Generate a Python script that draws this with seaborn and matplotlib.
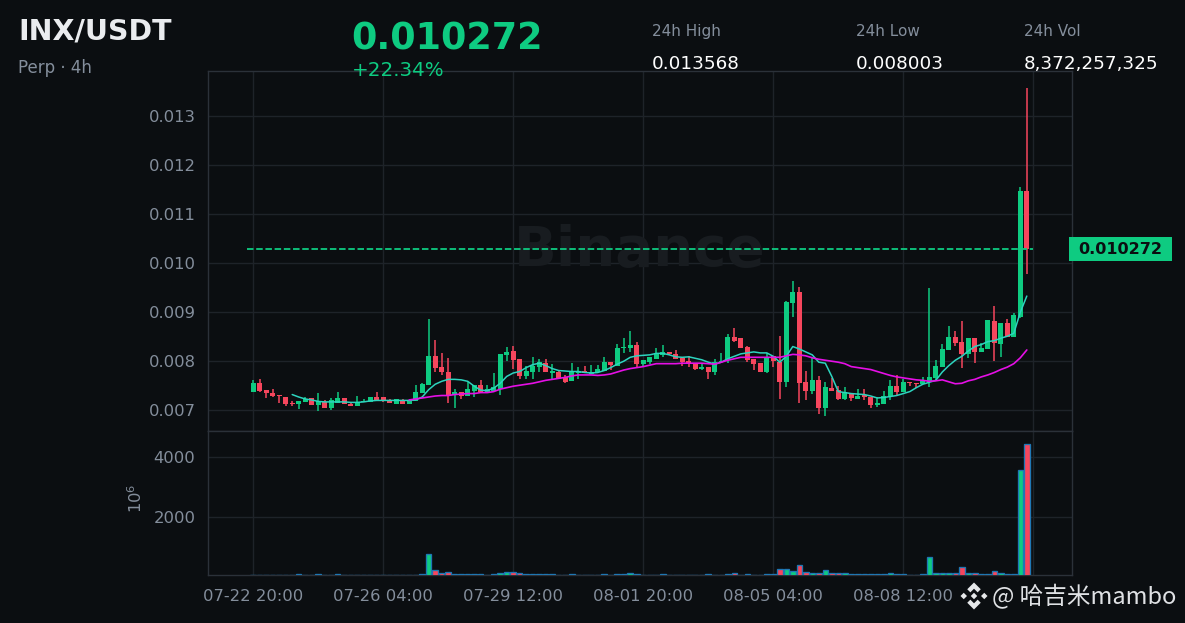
import matplotlib
matplotlib.use('Agg')
import matplotlib.pyplot as plt
from matplotlib.patches import Polygon, Rectangle
import numpy as np
import pandas as pd
import seaborn as sns

BG = '#0b0e11'
GRID = '#1e2329'
SPINE = '#2b3139'
MUTED = '#848e9c'
UP = '#0ecb81'
DOWN = '#f6465d'

opens = [.00737, .00754, .00741, .00735, .00729, .00727, .00714, .00712, .00715, .00723,
         .00709, .00716, .00703, .00714, .00723, .00712, .00707, .00715, .00715, .00727,
         .00725, .00720, .00712, .00720, .00711, .00717, .00735, .00750, .00809, .00788,
         .00778, .00731, .00737, .00728, .00739, .00750, .00736, .00739, .00743, .00811,
         .00819, .00803, .00768, .00778, .00787, .00796, .00775, .00778, .00767, .00758,
         .00774, .00780, .00772, .00778, .00779, .00797, .00789, .00825, .00827, .00833,
         .00793, .00798, .00804, .00812, .00817, .00814, .00805, .00799, .00795, .00784,
         .00788, .00776, .00798, .00801, .00848, .00846, .00829, .00803, .00795, .00778,
         .00809, .00797, .00756, .00918, .00941, .00756, .00738, .00760, .00703, .00744,
         .00741, .00721, .00735, .00721, .00731, .00727, .00710, .00711, .00729, .00749,
         .00737, .00757, .00755, .00752, .00757, .00765, .00788, .00821, .00848, .00839,
         .00813, .00846, .00817, .00823, .00882, .00835, .00876, .00848, .00890, .01146]
closes = [.00754, .00739, .00734, .00728, .00728, .00712, .00712, .00717, .00722, .00709,
          .00718, .00703, .00719, .00723, .00712, .00707, .00716, .00717, .00727, .00720,
          .00718, .00714, .00721, .00711, .00718, .00737, .00752, .00809, .00786, .00776,
          .00729, .00737, .00728, .00742, .00750, .00736, .00742, .00747, .00813, .00817,
          .00801, .00768, .00780, .00789, .00797, .00776, .00780, .00764, .00757, .00777,
          .00780, .00774, .00778, .00784, .00797, .00791, .00827, .00829, .00833, .00793,
          .00801, .00807, .00816, .00817, .00813, .00803, .00797, .00793, .00784, .00788,
          .00777, .00798, .00799, .00848, .00841, .00827, .00801, .00793, .00778, .00807,
          .00799, .00756, .00919, .00941, .00754, .00738, .00760, .00703, .00746, .00739,
          .00721, .00736, .00723, .00729, .00727, .00710, .00713, .00728, .00749, .00737,
          .00756, .00754, .00752, .00760, .00766, .00790, .00823, .00848, .00837, .00813,
          .00846, .00818, .00825, .00884, .00837, .00878, .00848, .00893, .01146, .010272]
highs = [.00761, .00763, .00741, .00742, .00729, .00727, .00718, .00717, .00726, .00723,
         .00735, .00719, .00724, .00737, .00724, .00713, .00729, .00722, .00727, .00737,
         .00725, .00721, .00722, .00722, .00719, .00751, .00754, .00885, .00842, .00816,
         .00806, .00743, .00737, .00757, .00750, .00760, .00750, .00774, .00813, .00828,
         .00831, .00803, .00790, .00808, .00804, .00804, .00794, .00780, .00771, .00796,
         .00787, .00790, .00792, .00792, .00808, .00797, .00835, .00847, .00861, .00838,
         .00801, .00807, .00825, .00833, .00817, .00822, .00805, .00809, .00795, .00794,
         .00788, .00803, .00816, .00855, .00867, .00846, .00831, .00803, .00795, .00816,
         .00809, .00850, .00921, .00963, .00950, .00779, .00806, .00768, .00756, .00765,
         .00748, .00746, .00735, .00743, .00743, .00727, .00726, .00738, .00761, .00770,
         .00763, .00757, .00755, .00767, .00949, .00802, .00835, .00871, .00861, .00881,
         .00846, .00846, .00836, .00884, .00912, .00878, .00886, .00897, .01154, .013568]
lows = [.00736, .00736, .00724, .00726, .00714, .00708, .00708, .00702, .00715, .00709,
        .00697, .00703, .00700, .00714, .00711, .00707, .00707, .00715, .00715, .00720,
        .00716, .00714, .00711, .00711, .00711, .00717, .00735, .00750, .00776, .00771,
        .00714, .00704, .00722, .00728, .00726, .00736, .00736, .00739, .00731, .00799,
        .00783, .00763, .00763, .00763, .00777, .00776, .00763, .00764, .00755, .00758,
        .00763, .00774, .00772, .00778, .00779, .00782, .00789, .00816, .00818, .00787,
        .00788, .00793, .00804, .00807, .00812, .00803, .00789, .00787, .00781, .00782,
        .00763, .00771, .00798, .00795, .00838, .00827, .00797, .00782, .00776, .00775,
        .00787, .00722, .00746, .00890, .00714, .00720, .00733, .00692, .00688, .00739,
        .00719, .00719, .00718, .00721, .00719, .00704, .00705, .00711, .00720, .00729,
        .00737, .00749, .00745, .00752, .00746, .00760, .00788, .00821, .00831, .00786,
        .00805, .00795, .00817, .00823, .00800, .00807, .00848, .00848, .00888, .00977]

# in millions, anything under about 34 sits below the axis floor
volumes = [20, 20, 20, 20, 20, 20, 20, 70, 20, 20,
           70, 20, 20, 70, 20, 20, 20, 20, 20, 20,
           20, 20, 20, 20, 20, 20, 70, 750, 210, 90,
           140, 70, 70, 70, 70, 70, 20, 70, 110, 140,
           140, 90, 70, 70, 70, 70, 70, 20, 20, 70,
           20, 20, 20, 20, 70, 20, 70, 70, 90, 70,
           20, 20, 20, 70, 20, 20, 20, 20, 20, 20,
           70, 20, 20, 70, 90, 20, 70, 20, 20, 70,
           70, 245, 245, 175, 380, 140, 110, 110, 210, 110,
           90, 90, 70, 70, 70, 70, 70, 70, 90, 70,
           70, 20, 20, 70, 650, 90, 110, 110, 90, 315,
           90, 90, 70, 70, 175, 110, 70, 70, 3560, 4435]

ma_fast = [.00731, .00726, .00722, .00720, .00717, .00716, .00716, .00716, .00716, .00715,
           .00715, .00716, .00718, .00719, .00719, .00719, .00719, .00719, .00719, .00720,
           .00726, .00741, .00752, .00758, .00762, .00762, .00761, .00758, .00748, .00740,
           .00739, .00744, .00754, .00768, .00775, .00778, .00786, .00792, .00795, .00790,
           .00784, .00780, .00779, .00778, .00778, .00776, .00775, .00776, .00780, .00786,
           .00793, .00799, .00807, .00810, .00811, .00812, .00815, .00815, .00812, .00808,
           .00807, .00808, .00805, .00802, .00797, .00793, .00797, .00804, .00809, .00814,
           .00816, .00818, .00816, .00816, .00809, .00797, .00809, .00829, .00824, .00818,
           .00812, .00797, .00795, .00768, .00737, .00735, .00733, .00732, .00731, .00728,
           .00724, .00725, .00727, .00729, .00733, .00737, .00745, .00752, .00756, .00760,
           .00777, .00790, .00801, .00809, .00820, .00829, .00833, .00839, .00841, .00846,
           .00850, .00856, .00899, .00932]
ma_slow = [.00720, .00722, .00724, .00726, .00728, .00729, .00729, .00731, .00732, .00733,
           .00733, .00735, .00735, .00737, .00742, .00745, .00748, .00750, .00752, .00754,
           .00757, .00760, .00762, .00764, .00766, .00769, .00771, .00771, .00771, .00770,
           .00771, .00773, .00777, .00781, .00784, .00786, .00788, .00791, .00794, .00794,
           .00794, .00794, .00795, .00795, .00795, .00795, .00794, .00793, .00797, .00801,
           .00804, .00807, .00807, .00807, .00807, .00807, .00807, .00807, .00810, .00813,
           .00812, .00810, .00806, .00803, .00801, .00799, .00797, .00794, .00788, .00786,
           .00784, .00782, .00778, .00774, .00770, .00767, .00765, .00763, .00761, .00760,
           .00758, .00759, .00761, .00757, .00753, .00754, .00759, .00762, .00767, .00771,
           .00776, .00782, .00787, .00794, .00806, .00822]

date_labels = ['07-22 20:00', '07-26 04:00', '07-29 12:00', '08-01 20:00', '08-05 04:00', '08-08 12:00', '']
price_ticks = [0.007, 0.008, 0.009, 0.010, 0.011, 0.012, 0.013]
volume_ticks = [2000, 4000]

W, H = 1185, 623


def axes_box(left, top, right, bottom):
    return [left / W, (H - bottom) / H, (right - left) / W, (bottom - top) / H]


def draw_candles(ax, df):
    for side, color in [('up', UP), ('down', DOWN)]:
        part = df[df['side'] == side]
        ax.vlines(part['i'], part['low'], part['high'], color=color, lw=1.1, zorder=3)
        body = np.maximum((part['close'] - part['open']).abs(), 0.00002)
        ax.bar(part['i'], body, bottom=part[['open', 'close']].min(axis=1), width=0.8,
               color=color, linewidth=0, zorder=4)


def style_axes(ax):
    ax.set_facecolor(BG)
    ax.grid(True, color=GRID, lw=1)
    ax.set_axisbelow(True)
    for s in ax.spines.values():
        s.set_color(SPINE)
        s.set_linewidth(1)


def draw_logo(fig, cx, cy, s):
    # binance mark, s is half the width in pixels
    shapes = [
        [(0, 1), (.5, .5), (.27, .27), (0, .54), (-.27, .27), (-.5, .5)],
        [(0, -1), (.5, -.5), (.27, -.27), (0, -.54), (-.27, -.27), (-.5, -.5)],
        [(-.76, .24), (-.52, 0), (-.76, -.24), (-1, 0)],
        [(.76, .24), (1, 0), (.76, -.24), (.52, 0)],
        [(0, .24), (.24, 0), (0, -.24), (-.24, 0)],
    ]
    for pts in shapes:
        xy = [((cx + px * s) / W, (H - cy + py * s) / H) for px, py in pts]
        fig.add_artist(Polygon(xy, closed=True, transform=fig.transFigure, color='#e6e8ea', lw=0))


idx = np.arange(len(closes))
candles = pd.DataFrame({'i': idx, 'open': opens, 'close': closes, 'high': highs, 'low': lows, 'vol': volumes})
candles['side'] = np.where(candles['close'] >= candles['open'], 'up', 'down')
fast = pd.DataFrame({'i': idx[6:], 'ma': ma_fast})
slow = pd.DataFrame({'i': idx[24:], 'ma': ma_slow})

sns.set_theme(style='dark')
plt.rcParams['font.family'] = ['DejaVu Sans']

fig = plt.figure(figsize=(W / 100, H / 100), dpi=100, facecolor=BG)
ax = fig.add_axes(axes_box(208, 71, 1072, 431))
ax_vol = fig.add_axes(axes_box(208, 431, 1072, 575))
style_axes(ax)
style_axes(ax_vol)

x_ticks = idx[::20].tolist() + [120]
xlim = (-6.95, 125.95)

draw_candles(ax, candles)
sns.lineplot(data=fast, x='i', y='ma', ax=ax, color='#2dd4bf', lw=1.1, zorder=5)
sns.lineplot(data=slow, x='i', y='ma', ax=ax, color='#e60fe6', lw=1.2, zorder=5)
ax.plot([-0.9, 120], [closes[-1], closes[-1]], color=UP, lw=1.3, ls=(0, (3.6, 1.5)), zorder=6)
ax.text(59.5, 0.01023, 'Binance', color='#181c20', fontsize=40.5, fontweight='bold',
        ha='center', va='center', zorder=2)
ax.set_xlim(xlim)
ax.set_ylim(0.006566, 0.013913)
ax.set_xticks(x_ticks)
ax.set_yticks(price_ticks)
ax.set_yticklabels([f'{t:.3f}' for t in price_ticks])
ax.tick_params(axis='x', length=0, labelbottom=False)
ax.tick_params(axis='y', length=0, labelcolor=MUTED, labelsize=11.8, pad=9)
ax.set_xlabel('')
ax.set_ylabel('')

sns.barplot(data=candles, x='i', y='vol', hue='side', palette={'up': UP, 'down': DOWN},
            native_scale=True, dodge=False, width=0.85, saturation=1, legend=False,
            edgecolor='#1f77b4', linewidth=0.95, ax=ax_vol, zorder=3)
ax_vol.set_xlim(xlim)
ax_vol.set_ylim(34, 4874)
ax_vol.set_xticks(x_ticks)
ax_vol.set_xticklabels(date_labels)
ax_vol.set_yticks(volume_ticks)
ax_vol.tick_params(axis='x', length=4, color='#c8ccd2', width=1, labelcolor=MUTED, labelsize=11.8, pad=6)
ax_vol.tick_params(axis='y', length=0, labelcolor=MUTED, labelsize=11.8, pad=9)
ax_vol.set_xlabel('')
ax_vol.set_ylabel('$10^{6}$', color=MUTED, fontsize=11.8)
ax_vol.yaxis.set_label_coords((145 - 208) / 864, (575 - 498) / 144)

# header
fig.text(18 / W, 1 - 32 / H, 'INX/USDT', color='#eaecef', fontsize=20.5, fontweight='bold', va='center')
fig.text(18 / W, 1 - 68 / H, 'Perp · 4h', color=MUTED, fontsize=12, va='center')
fig.text(351 / W, 1 - 39 / H, '0.010272', color=UP, fontsize=26.3, fontweight='bold', va='center')
fig.text(352 / W, 1 - 71 / H, '+22.34%', color=UP, fontsize=14.3, va='center')
for x0, head, val in [(652, '24h High', '0.013568'), (856, '24h Low', '0.008003'), (1024, '24h Vol', '8,372,257,325')]:
    fig.text(x0 / W, 1 - 31.5 / H, head, color=MUTED, fontsize=11, va='center')
    fig.text(x0 / W, 1 - 64 / H, val, color='#ffffff', fontsize=13.2, va='center')

# last price tag
fig.add_artist(Rectangle((1069 / W, (H - 261) / H), 103 / W, 24 / H, transform=fig.transFigure,
                         color=UP, lw=0))
fig.text(1120.5 / W, 1 - 249 / H, '0.010272', color=BG, fontsize=11.5, fontweight='bold',
         ha='center', va='center')

# watermark
draw_logo(fig, 974, 596, 13.5)
fig.text(992.5 / W, 1 - 597 / H, '@ 哈吉米mambo', color='#dfe1e4', fontsize=17,
         family=['Noto Sans CJK SC', 'DejaVu Sans'], va='center')

fig.savefig('out.png', dpi=100, facecolor=BG)
